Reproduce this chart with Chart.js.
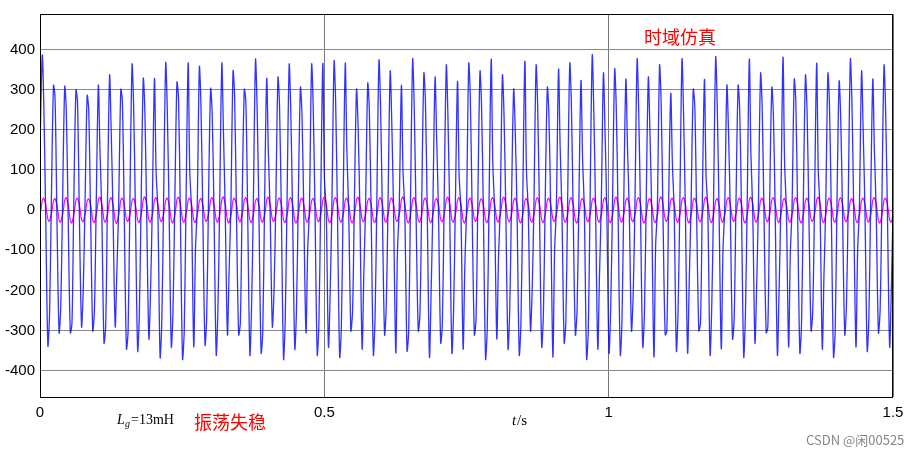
<!DOCTYPE html>
<html>
<head>
<meta charset="utf-8">
<script src="https://cdn.jsdelivr.net/npm/chart.js@4"></script>
<style>
  body { margin: 0; background: #fff; }
  #wrap { width: 918px; height: 456px; }
</style>
</head>
<body>
<div id="wrap"><canvas id="waveChart"></canvas></div>
<script>
// per-cycle readings (76 cycles over 1.5 s)
const cycleCount = 76;
const blueMax = [385,310,307,299,285,310,335,300,362,327,327,366,318,366,356,302,365,346,300,374,327,330,362,305,362,365,
  370,365,300,315,372,345,310,375,340,330,360,320,365,345,375,335,300,370,360,305,350,365,322,385,340,
  350,325,375,330,360,290,375,300,325,380,310,310,375,340,305,380,325,335,365,340,320,375,345,325,360];
const blueMin = [-337,-305,-305,-290,-300,-330,-290,-345,-350,-320,-366,-340,-370,-340,-335,-360,-310,-310,-360,-355,-290,-370,-345,-305,-360,-340,
  -365,-300,-345,-360,-310,-355,-350,-300,-365,-330,-355,-345,-310,-370,-320,-345,-360,-300,-340,-365,-330,-310,-370,-345,-355,
  -360,-300,-340,-365,-310,-350,-355,-300,-360,-345,-320,-365,-330,-305,-360,-340,-355,-300,-345,-365,-310,-340,-350,-305,-340];
const blueShHi = [260,280,250,270,250,150,200,270,260,250,100,250,280,100,260,240,200,280,270,260,150,260,250,240,260,80,
  270,150,210,250,260,220,100,260,270,180,240,90,280,260,120,240,200,100,260,240,160,270,130,250,200,
  260,160,250,200,270,120,240,260,90,260,200,250,140,260,240,120,270,250,100,260,230,270,200,150,250];
const blueShLo = [-260,-240,-280,-200,-250,-290,-150,-300,-260,-200,-280,-250,-300,-100,-270,-250,-150,-280,-240,-300,-200,-270,-250,-100,-280,-210,
  -290,-250,-160,-270,-240,-100,-300,-260,-200,-280,-250,-140,-270,-290,-120,-250,-280,-200,-260,-100,-280,-250,-300,-160,-240,
  -280,-210,-260,-90,-300,-250,-170,-280,-240,-100,-270,-260,-190,-290,-200,-110,-280,-250,-160,-300,-240,-100,-270,-250,-200];
const pinkMax = [30,29,31,30,28,32,31,30,29,33,31,30,32,30,29,31,33,30,31,29,32,30,31,30,29,32,
  31,30,32,29,31,30,33,31,30,29,32,31,30,28,31,32,30,29,31,30,32,31,29,30,31,
  32,30,31,29,33,30,31,30,32,29,31,30,32,30,31,29,31,30,32,30,31,29,30,31,30];
const pinkMin = [-28,-30,-32,-29,-31,-30,-33,-28,-31,-30,-29,-32,-30,-31,-28,-30,-32,-29,-31,-30,-28,-31,-32,-30,-29,-31,
  -30,-32,-29,-31,-30,-28,-32,-30,-31,-29,-30,-32,-28,-31,-30,-29,-32,-30,-31,-28,-30,-32,-29,-30,-31,
  -30,-29,-32,-31,-28,-30,-32,-29,-31,-30,-28,-32,-30,-29,-31,-30,-32,-28,-31,-30,-29,-31,-30,-32,-30];
const yTicks = [-400,-300,-200,-100,0,100,200,300,400];
const xTicks = [0, 0.5, 1, 1.5];

const period = 1.5 / cycleCount;
const bluePts = [], pinkPts = [];
for (let i = 0; i < cycleCount; i++) {
  const t0 = i * period;
  bluePts.push({x: t0, y: i === 0 ? 150 : 0});
  bluePts.push({x: t0 + 0.2 * period, y: blueMax[i]});
  bluePts.push({x: t0 + 0.34 * period, y: blueShHi[i]});
  bluePts.push({x: t0 + 0.5 * period, y: 0});
  bluePts.push({x: t0 + 0.7 * period, y: blueMin[i]});
  bluePts.push({x: t0 + 0.85 * period, y: blueShLo[i]});
  pinkPts.push({x: t0 + 0.08 * period, y: 0});
  pinkPts.push({x: t0 + 0.2 * period, y: pinkMax[i] * 0.8});
  pinkPts.push({x: t0 + 0.33 * period, y: pinkMax[i]});
  pinkPts.push({x: t0 + 0.5 * period, y: pinkMax[i] * 0.5});
  pinkPts.push({x: t0 + 0.58 * period, y: 0});
  pinkPts.push({x: t0 + 0.7 * period, y: pinkMin[i] * 0.8});
  pinkPts.push({x: t0 + 0.83 * period, y: pinkMin[i]});
  pinkPts.push({x: t0 + 0.98 * period, y: pinkMin[i] * 0.5});
}
bluePts.push({x: 1.5, y: 0});

const textPlugin = {
  id: 'labels',
  afterDraw(chart) {
    const ctx = chart.ctx;
    ctx.save();
    ctx.textBaseline = 'middle';
    ctx.fillStyle = '#ff0000';
    ctx.font = '18px "Noto Sans CJK SC"';
    ctx.fillText('时域仿真', 644, 37);
    ctx.fillText('振荡失稳', 194, 422);
    ctx.fillStyle = '#000';
    ctx.font = 'italic 14px "Liberation Serif"';
    ctx.fillText('L', 117, 420);
    ctx.font = 'italic 10px "Liberation Serif"';
    ctx.fillText('g', 125, 424);
    ctx.font = '14px "Liberation Serif"';
    ctx.fillText('=13mH', 131, 420);
    ctx.font = 'italic 15px "Liberation Serif"';
    ctx.fillText('t', 512, 421);
    ctx.font = '15px "Liberation Serif"';
    ctx.fillText('/s', 517, 421);
    ctx.fillStyle = '#888';
    ctx.font = '13px "Noto Sans CJK SC"';
    ctx.fillText('CSDN @闲00525', 806, 440);
    ctx.strokeStyle = '#000';
    ctx.lineWidth = 1;
    const a = chart.chartArea;
    ctx.strokeRect(a.left + 0.5, a.top + 0.5, a.right - a.left - 1, a.bottom - a.top);
    ctx.restore();
  }
};

new Chart(document.getElementById('waveChart'), {
  type: 'line',
  data: {
    datasets: [
      { data: bluePts, borderColor: 'rgba(0,0,255,0.8)', borderWidth: 1.3, pointRadius: 0, tension: 0.3 },
      { data: pinkPts, borderColor: '#ff00ff', borderWidth: 1.2, pointRadius: 0, tension: 0.3 }
    ]
  },
  plugins: [textPlugin],
  options: {
    responsive: true,
    maintainAspectRatio: false,
    animation: false,
    layout: { padding: { top: 14, right: 25, left: 0, bottom: 0 } },
    plugins: { legend: { display: false }, tooltip: { enabled: false } },
    scales: {
      x: {
        type: 'linear', min: 0, max: 1.5,
        afterBuildTicks: s => { s.ticks = xTicks.map(v => ({value: v})); },
        afterFit: s => { s.height = 59; },
        grid: { color: '#777', drawTicks: false, lineWidth: 1 },
        border: { display: false },
        ticks: { color: '#000', padding: 7, maxRotation: 0, font: { family: 'Liberation Sans', size: 15 },
          callback: v => String(v) }
      },
      y: {
        min: -465, max: 488,
        afterBuildTicks: s => { s.ticks = yTicks.map(v => ({value: v})); },
        afterFit: s => { s.width = 40; },
        grid: { color: '#888', drawTicks: false, lineWidth: 1 },
        border: { display: false },
        ticks: { color: '#000', padding: 5, font: { family: 'Liberation Sans', size: 15 } }
      }
    }
  }
});
</script>
</body>
</html>
